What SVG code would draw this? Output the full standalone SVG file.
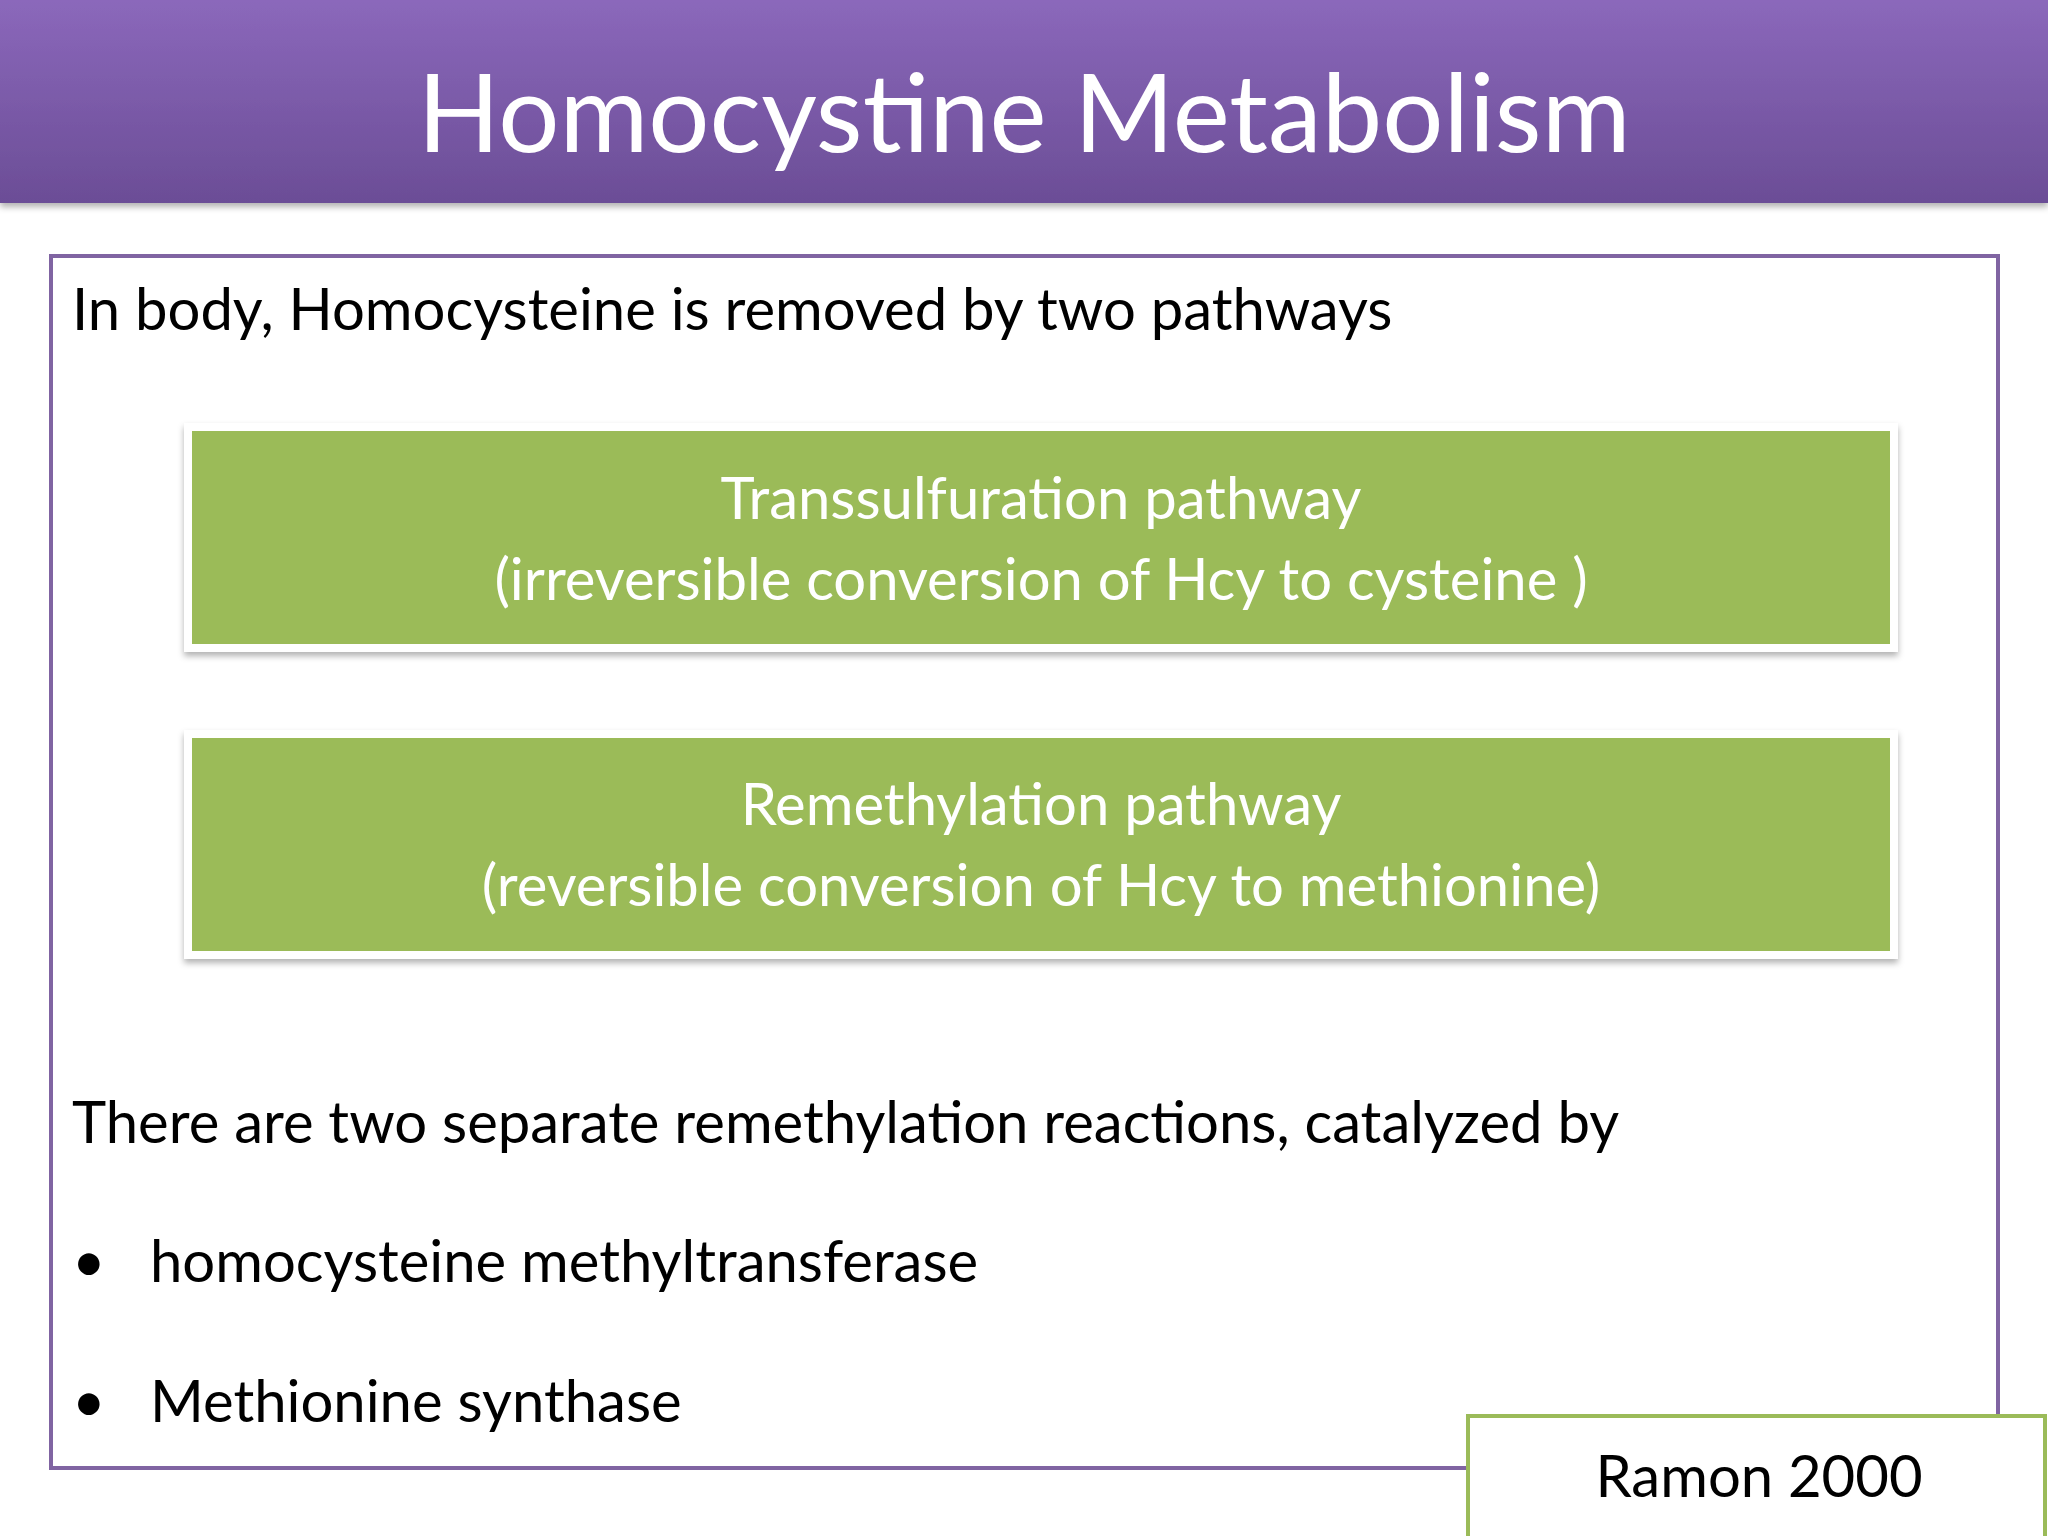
<svg xmlns="http://www.w3.org/2000/svg" width="2048" height="1536" viewBox="0 0 2048 1536">
<defs>
<linearGradient id="tg" x1="0" y1="0" x2="0" y2="1"><stop offset="0" stop-color="#8b68bb"/><stop offset="1" stop-color="#6b4d96"/></linearGradient>
<filter id="sh" x="-5%" y="-10%" width="110%" height="130%"><feDropShadow dx="0" dy="4" stdDeviation="3" flood-color="#000" flood-opacity="0.3"/></filter>
<style>
text{font-family:Lato,"Open Sans","Liberation Sans",sans-serif}
.w{fill:#fff;font-size:58px;text-anchor:middle}
.b{fill:#000;font-size:58px}
.g{fill:#9bbb59;stroke:#fff;stroke-width:8;filter:url(#sh)}
</style>
</defs>
<rect width="2048" height="1536" fill="#fff"/>
<g id="title"><rect x="0" y="0" width="2048" height="203" fill="url(#tg)" filter="url(#sh)"/>
<text x="1024" y="152" class="w" style="font-size:108px">Homocystine  Metabolism</text></g>
<g id="content"><rect x="51" y="256" width="1947" height="1212" fill="none" stroke="#8064a2" stroke-width="4"/>
<text x="72" y="330" class="b">In body, Homocysteine is removed by two pathways</text>
<text x="72" y="1143" class="b">There are two separate remethylation reactions, catalyzed by</text>
<text x="72" y="1282" class="b">•</text><text x="150" y="1282" class="b">homocysteine methyltransferase</text>
<text x="72" y="1422" class="b">•</text><text x="150" y="1422" class="b">Methionine synthase</text></g>
<g id="trans"><rect x="188" y="427" width="1706" height="221" class="g"/>
<text x="1041" y="519" class="w">Transsulfuration pathway</text>
<text x="1041" y="600" class="w">(irreversible conversion of Hcy to cysteine )</text></g>
<g id="remeth"><rect x="188" y="734" width="1706" height="221" class="g"/>
<text x="1041" y="825" class="w">Remethylation pathway</text>
<text x="1041" y="906" class="w">(reversible conversion of Hcy to methionine)</text></g>
<g id="ramon"><rect x="1468" y="1416" width="577" height="122" fill="#fff" stroke="#9bbb59" stroke-width="4"/>
<text x="1759" y="1497" class="b" style="text-anchor:middle">Ramon 2000</text></g>
<g id="connectors"/>
</svg>
